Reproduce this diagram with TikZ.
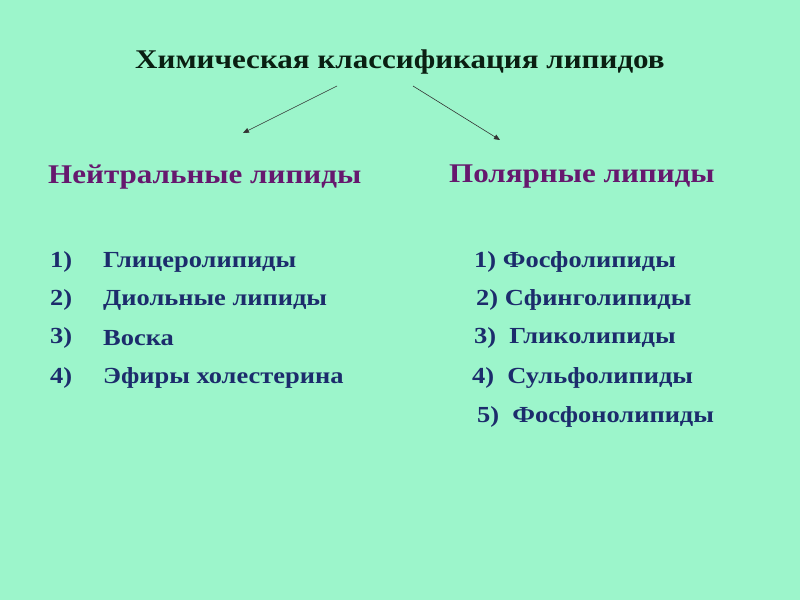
\documentclass[tikz,border=0pt]{standalone}
\usepackage{fontspec}
\setmainfont{Liberation Serif}[FakeStretch=1.15]
\usetikzlibrary{arrows.meta}
\definecolor{bg}{HTML}{9CF5CB}
\definecolor{ttl}{HTML}{0A1F12}
\definecolor{hd}{HTML}{66186E}
\definecolor{it}{HTML}{1C2C6C}
\begin{document}
\begin{tikzpicture}[x=1pt,y=-1pt,
 title/.style={font=\bfseries\fontsize{27}{30}\selectfont,text=ttl,inner sep=0},
 head/.style={font=\bfseries\fontsize{27}{30}\selectfont,text=hd,anchor=west,inner sep=0},
 item/.style={font=\bfseries\fontsize{23}{26}\selectfont,text=it,anchor=west,inner sep=0},
 arr/.style={-{Triangle[length=6pt,width=5pt]},draw=black!80,line width=0.6pt}]
\fill[bg] (0,0) rectangle (800,600);
\node[title] (t) at (400,62) {Химическая классификация липидов};
\coordinate (a1) at (337,86); \coordinate (a2) at (243,133);
\coordinate (b1) at (413,86); \coordinate (b2) at (500,140);
\draw[arr] (a1) -- (a2);
\draw[arr] (b1) -- (b2);
\node[head] (h1) at (48,177) {Нейтральные липиды};
\node[head] (h2) at (449,177) {Полярные липиды};
\node[item] (n1) at (50,262) {1)}; \node[item] (l1) at (103,262) {Глицеролипиды};
\node[item] (n2) at (50,300) {2)}; \node[item] (l2) at (103,300) {Диольные липиды};
\node[item] (n3) at (50,338) {3)}; \node[item] (l3) at (103,338) {Воска};
\node[item] (n4) at (50,378) {4)}; \node[item] (l4) at (103,378) {Эфиры холестерина};
\node[item] (r1) at (474,262) {1) Фосфолипиды};
\node[item] (r2) at (476,300) {2) Сфинголипиды};
\node[item] (r3) at (474,338) {3)\ \ Гликолипиды};
\node[item] (r4) at (472,378) {4)\ \ Сульфолипиды};
\node[item] (r5) at (477,417) {5)\ \ Фосфонолипиды};
\end{tikzpicture}
\end{document}
